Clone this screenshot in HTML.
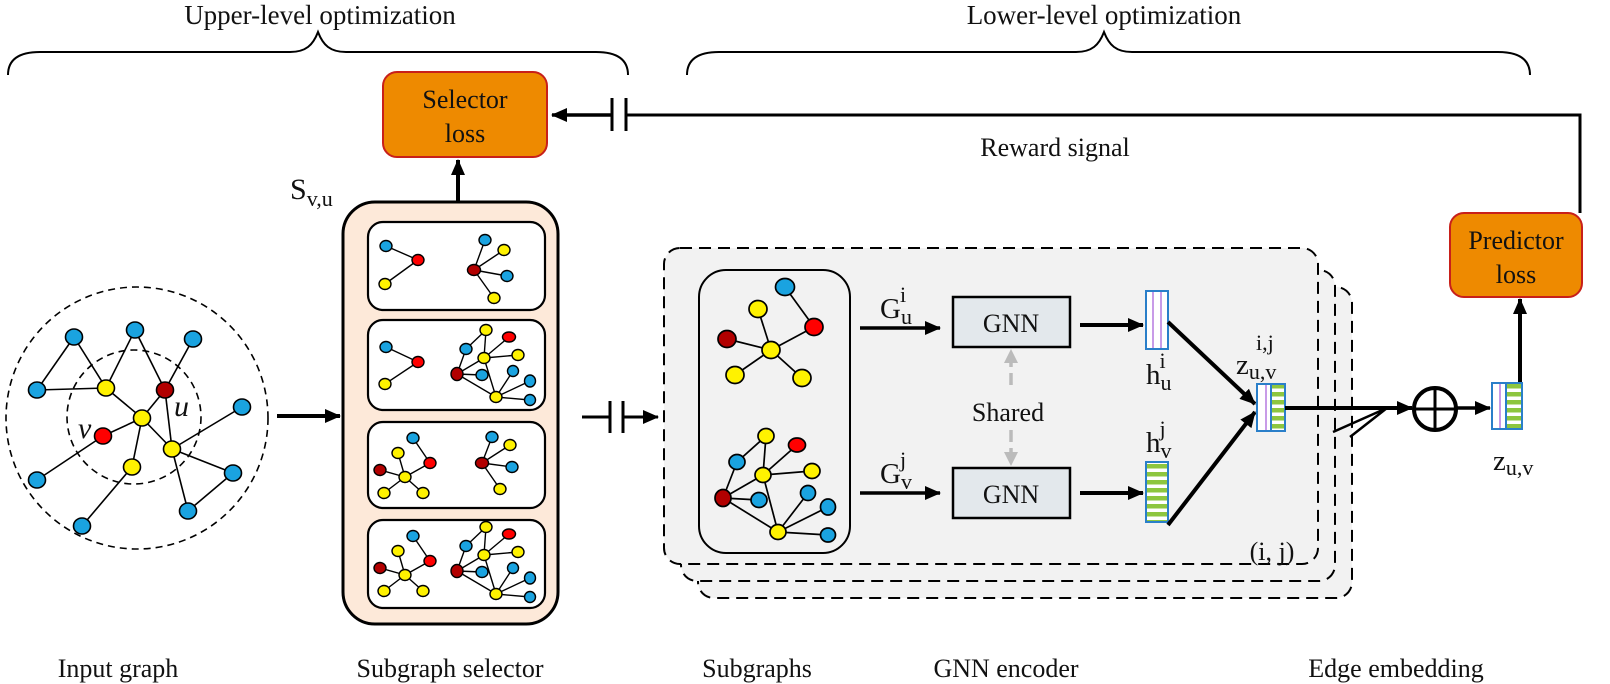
<!DOCTYPE html>
<html><head><meta charset="utf-8"><style>
html,body{margin:0;padding:0;background:#fff}
svg{display:block}
text{font-family:"Liberation Serif",serif;fill:#111}
</style></head><body>
<svg width="1610" height="684" viewBox="0 0 1610 684" xmlns="http://www.w3.org/2000/svg">
<defs>
<marker id="ah" markerUnits="userSpaceOnUse" markerWidth="16" markerHeight="14" refX="15" refY="7" orient="auto"><path d="M0,0 L16,7 L0,14 z" fill="#000"/></marker>
<marker id="ag" markerUnits="userSpaceOnUse" markerWidth="14" markerHeight="14" refX="13" refY="7" orient="auto"><path d="M0,0 L14,7 L0,14 z" fill="#bbb"/></marker>
<pattern id="gr" patternUnits="userSpaceOnUse" width="10" height="8"><rect width="10" height="8" fill="#fff"/><rect width="10" height="4.5" fill="#8DC63F"/></pattern>
</defs>

<text x="320" y="24" font-size="27" text-anchor="middle">Upper-level optimization</text>
<text x="1104" y="24" font-size="27" text-anchor="middle">Lower-level optimization</text>
<path d="M8,75 C8,60 18,52 40,52 L290,52 C306,52 313,45 318,32 C323,45 330,52 346,52 L596,52 C618,52 628,60 628,75" fill="none" stroke="#000" stroke-width="2"/>
<path d="M687,75 C687,60 697,52 719,52 L1076,52 C1092,52 1099,45 1104,32 C1109,45 1116,52 1132,52 L1498,52 C1520,52 1530,60 1530,75" fill="none" stroke="#000" stroke-width="2"/>

<rect x="383" y="72" width="164" height="85" rx="14" fill="#EE8A00" stroke="#C8201A" stroke-width="2"/>
<text x="465" y="108" font-size="26" text-anchor="middle">Selector</text>
<text x="465" y="142" font-size="26" text-anchor="middle">loss</text>

<polyline points="1580,213 1580,115 626,115" fill="none" stroke="#000" stroke-width="3"/>
<line x1="612" y1="115" x2="552" y2="115" stroke="#000" stroke-width="3.5" marker-end="url(#ah)"/>
<line x1="612" y1="98" x2="612" y2="131" stroke="#000" stroke-width="3"/>
<line x1="626" y1="98" x2="626" y2="131" stroke="#000" stroke-width="3"/>
<text x="1055" y="156" font-size="26" text-anchor="middle">Reward signal</text>

<rect x="1450" y="213" width="132" height="84" rx="14" fill="#EE8A00" stroke="#C8201A" stroke-width="2"/>
<text x="1516" y="249" font-size="26" text-anchor="middle">Predictor</text>
<text x="1516" y="283" font-size="26" text-anchor="middle">loss</text>
<line x1="1520" y1="382" x2="1520" y2="299" stroke="#000" stroke-width="4" marker-end="url(#ah)"/>

<text x="290" y="199" font-size="30">S<tspan font-size="22" dy="7">v,u</tspan></text>
<line x1="458" y1="203" x2="458" y2="160" stroke="#000" stroke-width="4" marker-end="url(#ah)"/>

<circle cx="137" cy="418" r="131" fill="none" stroke="#000" stroke-width="1.6" stroke-dasharray="7,5"/>
<circle cx="134" cy="417" r="67" fill="none" stroke="#000" stroke-width="1.6" stroke-dasharray="7,5"/>
<g stroke="#000" stroke-width="1.6">
<line x1="74" y1="337" x2="37" y2="390"/><line x1="74" y1="337" x2="106" y2="388"/><line x1="37" y1="390" x2="106" y2="388"/>
<line x1="135" y1="330" x2="106" y2="388"/><line x1="135" y1="330" x2="165" y2="390"/><line x1="193" y1="339" x2="165" y2="390"/>
<line x1="106" y1="388" x2="142" y2="418"/><line x1="165" y1="390" x2="142" y2="418"/><line x1="165" y1="390" x2="172" y2="449"/>
<line x1="142" y1="418" x2="103" y2="436"/><line x1="103" y1="436" x2="37" y2="480"/><line x1="142" y1="418" x2="172" y2="449"/>
<line x1="142" y1="418" x2="132" y2="467"/><line x1="132" y1="467" x2="82" y2="526"/><line x1="172" y1="449" x2="242" y2="407"/>
<line x1="172" y1="449" x2="233" y2="473"/><line x1="172" y1="449" x2="188" y2="511"/><line x1="233" y1="473" x2="188" y2="511"/>
</g>
<g stroke="#000" stroke-width="1.6">
<ellipse cx="74" cy="337" rx="8.5" ry="8" fill="#1AA3E0"/><ellipse cx="135" cy="330" rx="8.5" ry="8" fill="#1AA3E0"/>
<ellipse cx="193" cy="339" rx="8.5" ry="8" fill="#1AA3E0"/><ellipse cx="37" cy="390" rx="8.5" ry="8" fill="#1AA3E0"/>
<ellipse cx="106" cy="388" rx="8.5" ry="8" fill="#FFF200"/><ellipse cx="165" cy="390" rx="8.5" ry="8" fill="#B20000"/>
<ellipse cx="142" cy="418" rx="8.5" ry="8" fill="#FFF200"/><ellipse cx="103" cy="436" rx="8.5" ry="8" fill="#FF0000"/>
<ellipse cx="172" cy="449" rx="8.5" ry="8" fill="#FFF200"/><ellipse cx="242" cy="407" rx="8.5" ry="8" fill="#1AA3E0"/>
<ellipse cx="132" cy="467" rx="8.5" ry="8" fill="#FFF200"/><ellipse cx="37" cy="480" rx="8.5" ry="8" fill="#1AA3E0"/>
<ellipse cx="233" cy="473" rx="8.5" ry="8" fill="#1AA3E0"/><ellipse cx="188" cy="511" rx="8.5" ry="8" fill="#1AA3E0"/>
<ellipse cx="82" cy="526" rx="8.5" ry="8" fill="#1AA3E0"/>
</g>
<text x="78" y="438" font-size="30" font-style="italic">v</text>
<text x="174" y="416" font-size="30" font-style="italic">u</text>
<line x1="277" y1="416" x2="340" y2="416" stroke="#000" stroke-width="4" marker-end="url(#ah)"/>

<rect x="343" y="202" width="215" height="422" rx="32" fill="#FDE9D9" stroke="#000" stroke-width="3"/>
<g fill="#fff" stroke="#000" stroke-width="2.2">
<rect x="368" y="222" width="177" height="88" rx="15"/>
<rect x="368" y="320" width="177" height="90" rx="15"/>
<rect x="368" y="422" width="177" height="86" rx="15"/>
<rect x="368" y="520" width="177" height="88" rx="15"/>
</g>
<g stroke="#000" stroke-width="1.4">
<line x1="386" y1="246" x2="418" y2="260"/><line x1="418" y1="260" x2="385" y2="284"/>
<line x1="474" y1="270" x2="485" y2="240"/><line x1="474" y1="270" x2="504" y2="250"/><line x1="474" y1="270" x2="507" y2="276"/><line x1="474" y1="270" x2="494" y2="298"/>
<ellipse cx="386" cy="246" rx="6" ry="5.5" fill="#1AA3E0"/><ellipse cx="418" cy="260" rx="6" ry="5.5" fill="#FF0000"/><ellipse cx="385" cy="284" rx="6" ry="5.5" fill="#FFF200"/>
<ellipse cx="474" cy="270" rx="6.5" ry="5.5" fill="#B20000"/><ellipse cx="485" cy="240" rx="6" ry="5.5" fill="#1AA3E0"/><ellipse cx="504" cy="250" rx="6" ry="5.5" fill="#FFF200"/><ellipse cx="507" cy="276" rx="6" ry="5.5" fill="#1AA3E0"/><ellipse cx="494" cy="298" rx="6" ry="5.5" fill="#FFF200"/>
</g>
<g stroke="#000" stroke-width="1.4">
<line x1="386" y1="347" x2="418" y2="362"/><line x1="418" y1="362" x2="385" y2="384"/>
<ellipse cx="386" cy="347" rx="6" ry="5.5" fill="#1AA3E0"/><ellipse cx="418" cy="362" rx="6" ry="5.5" fill="#FF0000"/><ellipse cx="385" cy="384" rx="6" ry="5.5" fill="#FFF200"/>
</g>
<g id="bigR" stroke="#000" stroke-width="1.4">
<line x1="457" y1="374" x2="466" y2="349"/><line x1="466" y1="349" x2="486" y2="330"/><line x1="486" y1="330" x2="484" y2="358"/>
<line x1="457" y1="374" x2="484" y2="358"/><line x1="484" y1="358" x2="509" y2="337"/><line x1="484" y1="358" x2="518" y2="355"/>
<line x1="457" y1="374" x2="482" y2="375"/><line x1="457" y1="374" x2="496" y2="397"/><line x1="484" y1="358" x2="496" y2="397"/>
<line x1="496" y1="397" x2="513" y2="371"/><line x1="496" y1="397" x2="530" y2="381"/><line x1="496" y1="397" x2="530" y2="400"/>
<ellipse cx="457" cy="374" rx="6" ry="6.5" fill="#B20000"/><ellipse cx="466" cy="349" rx="6" ry="5.5" fill="#1AA3E0"/>
<ellipse cx="486" cy="330" rx="6" ry="5.5" fill="#FFF200"/><ellipse cx="509" cy="337" rx="6.5" ry="5" fill="#FF0000"/>
<ellipse cx="484" cy="358" rx="6" ry="5.5" fill="#FFF200"/><ellipse cx="518" cy="355" rx="6" ry="5.5" fill="#FFF200"/>
<ellipse cx="482" cy="375" rx="6" ry="5.5" fill="#1AA3E0"/><ellipse cx="513" cy="371" rx="5.5" ry="5.5" fill="#1AA3E0"/>
<ellipse cx="530" cy="381" rx="5.5" ry="6" fill="#1AA3E0"/><ellipse cx="530" cy="400" rx="5.5" ry="5.5" fill="#1AA3E0"/>
<ellipse cx="496" cy="397" rx="6" ry="5.5" fill="#FFF200"/>
</g>
<g id="starL" stroke="#000" stroke-width="1.4">
<line x1="405" y1="477" x2="380" y2="470"/><line x1="405" y1="477" x2="398" y2="453"/><line x1="405" y1="477" x2="430" y2="463"/>
<line x1="405" y1="477" x2="384" y2="493"/><line x1="405" y1="477" x2="423" y2="493"/><line x1="413" y1="438" x2="430" y2="463"/>
<ellipse cx="380" cy="470" rx="6" ry="5.5" fill="#B20000"/><ellipse cx="398" cy="453" rx="6" ry="5.5" fill="#FFF200"/>
<ellipse cx="413" cy="438" rx="6" ry="5.5" fill="#1AA3E0"/><ellipse cx="430" cy="463" rx="6" ry="5.5" fill="#FF0000"/>
<ellipse cx="405" cy="477" rx="6" ry="5.5" fill="#FFF200"/><ellipse cx="384" cy="493" rx="6" ry="5.5" fill="#FFF200"/>
<ellipse cx="423" cy="493" rx="6" ry="5.5" fill="#FFF200"/>
</g>
<g stroke="#000" stroke-width="1.4">
<line x1="482" y1="463" x2="492" y2="437"/><line x1="482" y1="463" x2="510" y2="445"/><line x1="482" y1="463" x2="512" y2="467"/><line x1="482" y1="463" x2="500" y2="489"/>
<ellipse cx="482" cy="463" rx="6.5" ry="5.5" fill="#B20000"/><ellipse cx="492" cy="437" rx="6" ry="5.5" fill="#1AA3E0"/><ellipse cx="510" cy="445" rx="6" ry="5.5" fill="#FFF200"/><ellipse cx="512" cy="467" rx="6" ry="5.5" fill="#1AA3E0"/><ellipse cx="500" cy="489" rx="6" ry="5.5" fill="#FFF200"/>
</g>
<use href="#starL" transform="translate(0,98)"/>
<use href="#bigR" transform="translate(0,197)"/>

<line x1="582" y1="417" x2="610" y2="417" stroke="#000" stroke-width="3"/>
<line x1="610" y1="401" x2="610" y2="433" stroke="#000" stroke-width="3"/>
<line x1="623" y1="401" x2="623" y2="433" stroke="#000" stroke-width="3"/>
<line x1="623" y1="417" x2="658" y2="417" stroke="#000" stroke-width="3" marker-end="url(#ah)"/>

<rect x="698" y="287" width="654" height="311" rx="16" fill="#F2F2F2" stroke="#000" stroke-width="2" stroke-dasharray="12,7"/>
<rect x="681" y="270" width="654" height="311" rx="16" fill="#F2F2F2" stroke="#000" stroke-width="2" stroke-dasharray="12,7"/>
<rect x="664" y="248" width="654" height="316" rx="16" fill="#F2F2F2" stroke="#000" stroke-width="2" stroke-dasharray="12,7"/>
<rect x="699" y="270" width="151" height="283" rx="27" fill="none" stroke="#000" stroke-width="2"/>
<g stroke="#000" stroke-width="1.7">
<line x1="785" y1="287" x2="814" y2="327"/><line x1="814" y1="327" x2="771" y2="350"/><line x1="758" y1="309" x2="771" y2="350"/>
<line x1="727" y1="339" x2="771" y2="350"/><line x1="771" y1="350" x2="735" y2="375"/><line x1="771" y1="350" x2="802" y2="378"/>
<ellipse cx="785" cy="287" rx="9.5" ry="8.5" fill="#1AA3E0"/><ellipse cx="758" cy="309" rx="9" ry="8.5" fill="#FFF200"/>
<ellipse cx="814" cy="327" rx="9" ry="8.5" fill="#FF0000"/><ellipse cx="727" cy="339" rx="9" ry="8.5" fill="#B20000"/>
<ellipse cx="771" cy="350" rx="9" ry="8.5" fill="#FFF200"/><ellipse cx="735" cy="375" rx="9" ry="8.5" fill="#FFF200"/>
<ellipse cx="802" cy="378" rx="9" ry="8.5" fill="#FFF200"/>
</g>
<g stroke="#000" stroke-width="1.7">
<line x1="766" y1="436" x2="737" y2="462"/><line x1="766" y1="436" x2="763" y2="475"/><line x1="797" y1="445" x2="763" y2="475"/>
<line x1="737" y1="462" x2="723" y2="498"/><line x1="763" y1="475" x2="812" y2="471"/><line x1="723" y1="498" x2="763" y2="475"/>
<line x1="723" y1="498" x2="759" y2="500"/><line x1="723" y1="498" x2="778" y2="532"/><line x1="763" y1="475" x2="778" y2="532"/>
<line x1="778" y1="532" x2="808" y2="493"/><line x1="778" y1="532" x2="828" y2="507"/><line x1="778" y1="532" x2="828" y2="535"/>
<ellipse cx="766" cy="436" rx="8" ry="7.5" fill="#FFF200"/><ellipse cx="797" cy="445" rx="8.5" ry="7" fill="#FF0000"/>
<ellipse cx="737" cy="462" rx="8" ry="7.5" fill="#1AA3E0"/><ellipse cx="763" cy="475" rx="8" ry="7.5" fill="#FFF200"/>
<ellipse cx="812" cy="471" rx="8" ry="7.5" fill="#FFF200"/><ellipse cx="723" cy="498" rx="8" ry="8.5" fill="#B20000"/>
<ellipse cx="759" cy="500" rx="8" ry="7.5" fill="#1AA3E0"/><ellipse cx="808" cy="493" rx="7.5" ry="7.5" fill="#1AA3E0"/>
<ellipse cx="828" cy="507" rx="7.5" ry="8" fill="#1AA3E0"/><ellipse cx="828" cy="535" rx="7.5" ry="7" fill="#1AA3E0"/>
<ellipse cx="778" cy="532" rx="8" ry="7.5" fill="#FFF200"/>
</g>

<line x1="860" y1="328" x2="940" y2="328" stroke="#000" stroke-width="3.5" marker-end="url(#ah)"/>
<line x1="860" y1="493" x2="940" y2="493" stroke="#000" stroke-width="3.5" marker-end="url(#ah)"/>
<text x="880" y="318" font-size="29">G<tspan font-size="22" dy="6">u</tspan><tspan font-size="22" dx="-12" dy="-22">i</tspan></text>
<text x="880" y="483" font-size="29">G<tspan font-size="22" dy="6">v</tspan><tspan font-size="22" dx="-12" dy="-22">j</tspan></text>

<rect x="953" y="297" width="117" height="50" fill="#E3E8EC" stroke="#000" stroke-width="2.5"/>
<rect x="953" y="468" width="117" height="50" fill="#E3E8EC" stroke="#000" stroke-width="2.5"/>
<text x="1011" y="332" font-size="26" text-anchor="middle">GNN</text>
<text x="1011" y="503" font-size="26" text-anchor="middle">GNN</text>
<line x1="1011" y1="385" x2="1011" y2="350" stroke="#bbb" stroke-width="3.5" stroke-dasharray="12,6" marker-end="url(#ag)"/>
<line x1="1011" y1="430" x2="1011" y2="465" stroke="#bbb" stroke-width="3.5" stroke-dasharray="12,6" marker-end="url(#ag)"/>
<text x="1008" y="421" font-size="26" text-anchor="middle">Shared</text>

<line x1="1080" y1="325" x2="1143" y2="325" stroke="#000" stroke-width="4" marker-end="url(#ah)"/>
<line x1="1080" y1="493" x2="1143" y2="493" stroke="#000" stroke-width="4" marker-end="url(#ah)"/>
<rect x="1146" y="291" width="22" height="58" fill="#fff" stroke="#2A7FC9" stroke-width="2"/>
<line x1="1153" y1="292" x2="1153" y2="348" stroke="#C89BE8" stroke-width="2"/>
<line x1="1161" y1="292" x2="1161" y2="348" stroke="#C89BE8" stroke-width="2"/>
<rect x="1146" y="462" width="22" height="60" fill="url(#gr)" stroke="#2A7FC9" stroke-width="2"/>
<text x="1146" y="384" font-size="29">h<tspan font-size="22" dy="6">u</tspan><tspan font-size="22" dx="-12" dy="-22">i</tspan></text>
<text x="1146" y="452" font-size="29">h<tspan font-size="22" dy="6">v</tspan><tspan font-size="22" dx="-12" dy="-22">j</tspan></text>

<line x1="1168" y1="322" x2="1255" y2="404" stroke="#000" stroke-width="4" marker-end="url(#ah)"/>
<line x1="1168" y1="525" x2="1255" y2="412" stroke="#000" stroke-width="4" marker-end="url(#ah)"/>
<rect x="1257" y="384" width="14" height="47" fill="#fff" stroke="#2A7FC9" stroke-width="2"/>
<line x1="1266" y1="385" x2="1266" y2="430" stroke="#C89BE8" stroke-width="2"/>
<rect x="1271" y="384" width="14" height="47" fill="url(#gr)" stroke="#2A7FC9" stroke-width="2"/>
<text x="1236" y="374" font-size="29">z<tspan font-size="22" dy="5">u,v</tspan></text>
<text x="1256" y="350" font-size="22">i,j</text>
<text x="1272" y="560" font-size="26" text-anchor="middle">(i, j)</text>

<line x1="1285" y1="408" x2="1412" y2="408" stroke="#000" stroke-width="4" marker-end="url(#ah)"/>
<polyline points="1333,432 1387,408 1350,437" fill="none" stroke="#000" stroke-width="2.5"/>
<circle cx="1435" cy="409" r="21" fill="#fff" stroke="#000" stroke-width="4"/>
<line x1="1414" y1="409" x2="1456" y2="409" stroke="#000" stroke-width="3"/>
<line x1="1435" y1="388" x2="1435" y2="430" stroke="#000" stroke-width="3"/>
<line x1="1457" y1="408" x2="1490" y2="408" stroke="#000" stroke-width="3.5" marker-end="url(#ah)"/>
<rect x="1492" y="383" width="14" height="46" fill="#fff" stroke="#2A7FC9" stroke-width="2"/>
<line x1="1500" y1="384" x2="1500" y2="428" stroke="#C89BE8" stroke-width="2"/>
<rect x="1506" y="383" width="16" height="46" fill="url(#gr)" stroke="#2A7FC9" stroke-width="2"/>
<text x="1493" y="470" font-size="29">z<tspan font-size="22" dy="5">u,v</tspan></text>

<text x="118" y="677" font-size="26" text-anchor="middle">Input graph</text>
<text x="450" y="677" font-size="26" text-anchor="middle">Subgraph selector</text>
<text x="757" y="677" font-size="26" text-anchor="middle">Subgraphs</text>
<text x="1006" y="677" font-size="26" text-anchor="middle">GNN encoder</text>
<text x="1396" y="677" font-size="26" text-anchor="middle">Edge embedding</text>
</svg>
</body></html>
